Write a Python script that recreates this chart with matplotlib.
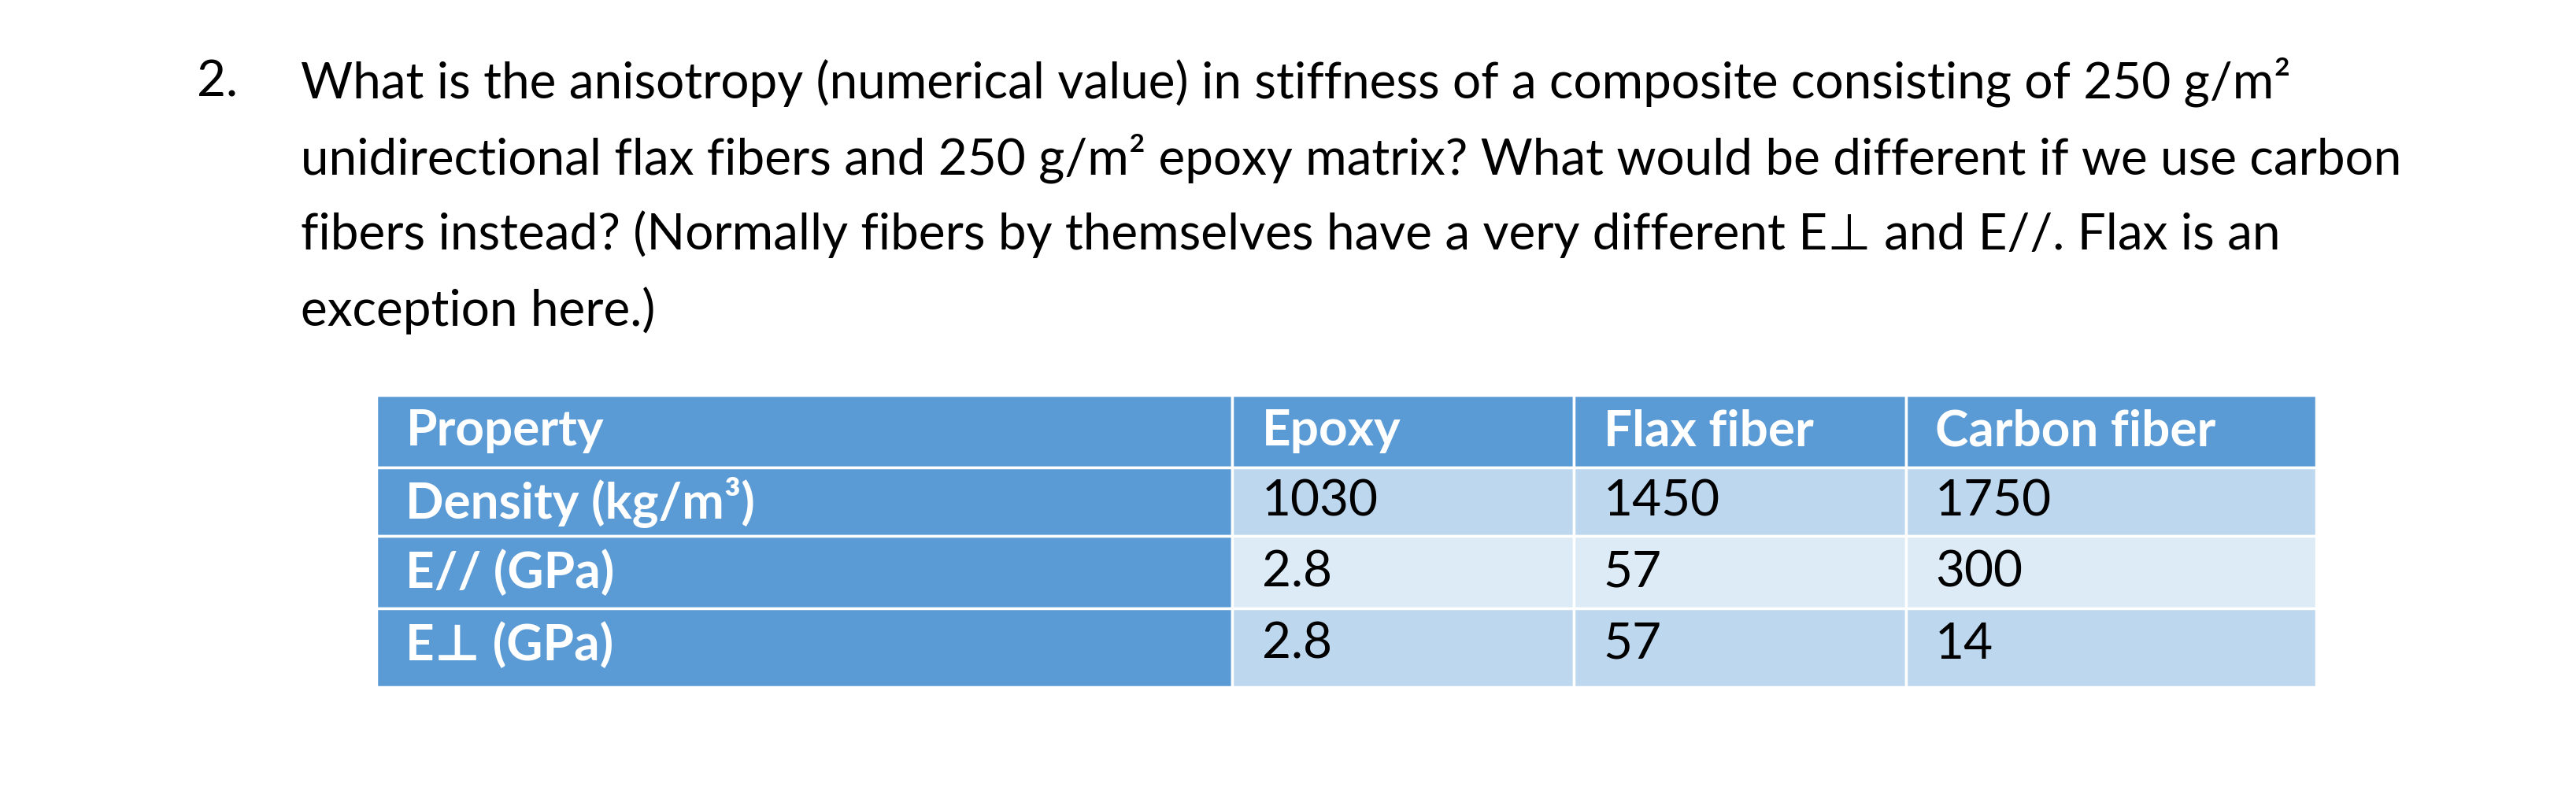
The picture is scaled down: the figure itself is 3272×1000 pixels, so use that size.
import matplotlib
matplotlib.use("Agg")
import matplotlib.pyplot as plt
from matplotlib.patches import Rectangle

question_num = "2."
question_lines = [
    "What is the anisotropy (numerical value) in stiffness of a composite consisting of 250 g/m²",
    "unidirectional flax fibers and 250 g/m² epoxy matrix? What would be different if we use carbon",
    "fibers instead? (Normally fibers by themselves have a very different E⊥ and E//. Flax is an",
    "exception here.)",
]
header = ["Property", "Epoxy", "Flax fiber", "Carbon fiber"]
row_labels = ["Density (kg/m³)", "E// (GPa)", "E⊥ (GPa)"]
epoxy = ["1030", "2.8", "2.8"]
flax = ["1450", "57", "57"]
carbon = ["1750", "300", "14"]

W, H = 1568.0, 480.0
fig = plt.figure(figsize=(32.72, 10), dpi=100)
fig.patch.set_facecolor("white")
FONT = ["Lato", "DejaVu Sans"]
FS = 46

def fx(x): return x / W
def fy(y): return 1 - y / H

fig.text(fx(120), fy(50), question_num, fontsize=FS, family=FONT, va="center", ha="left")
for i, line in enumerate(question_lines):
    fig.text(fx(183), fy(50 + i * 46.5), line, fontsize=FS, family=FONT, va="center", ha="left")

col_x = [229, 750, 958, 1160, 1410]
row_y = [241, 285, 327, 371, 419]
dark = "#5B9BD5"
light1 = "#BDD7EE"
light2 = "#DDEBF7"
table = [header] + [[row_labels[i], epoxy[i], flax[i], carbon[i]] for i in range(3)]
for r in range(4):
    for c in range(4):
        if r == 0 or c == 0:
            col, tc, wt = dark, "white", "bold"
        else:
            col = light1 if r % 2 == 1 else light2
            tc, wt = "black", "normal"
        x0, x1 = col_x[c], col_x[c + 1]
        y0, y1 = row_y[r], row_y[r + 1]
        fig.patches.append(Rectangle((fx(x0), fy(y1)), fx(x1 - x0), (y1 - y0) / H,
                                     transform=fig.transFigure, facecolor=col,
                                     edgecolor="white", linewidth=2.5))
        fig.text(fx(x0 + 18), fy((y0 + y1) / 2 if r < 3 else y0 + 22), table[r][c],
                 fontsize=FS, family=FONT, color=tc, weight=wt, va="center", ha="left")

fig.savefig("out.png", dpi=100)
